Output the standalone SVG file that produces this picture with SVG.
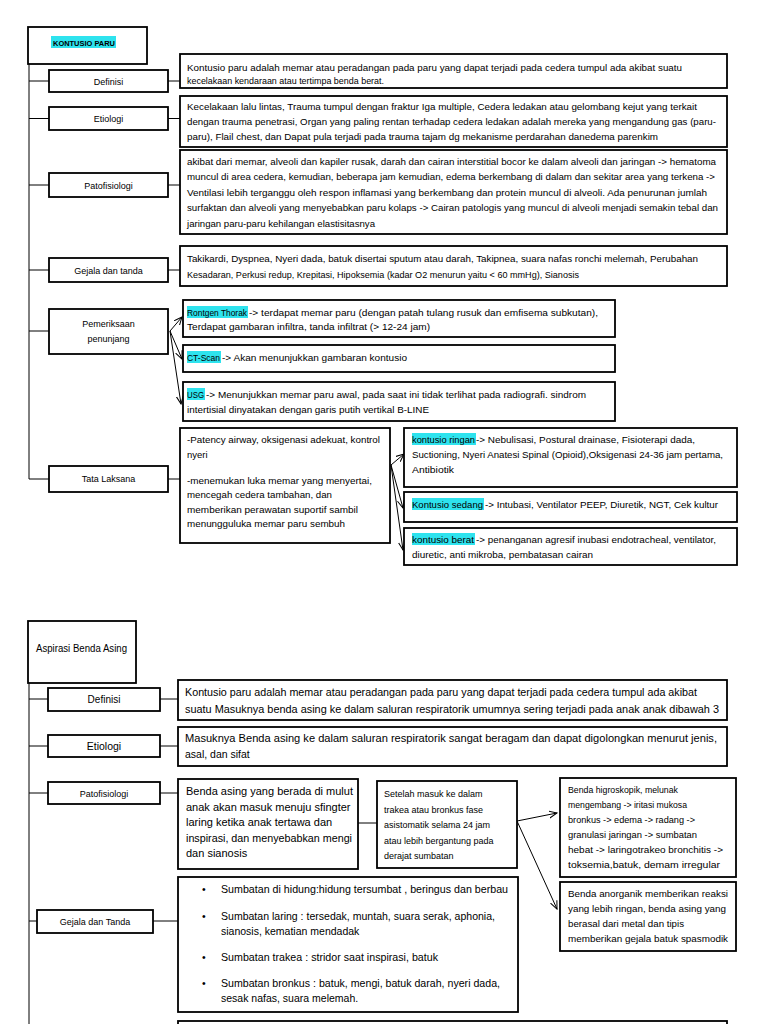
<svg xmlns="http://www.w3.org/2000/svg" width="768" height="1024" viewBox="0 0 768 1024">
<style>
.bx{fill:#fff;stroke:#000;stroke-width:1.8}
.ln{stroke:#000;stroke-width:1;fill:none}
.ar{stroke:#000;stroke-width:1;fill:none;marker-end:url(#ah)}
.hl{fill:#2ee3ee}
text{font-family:"Liberation Sans",Arial,sans-serif;fill:#000}
.t{font-size:9.5px}
.c{font-size:9px;text-anchor:middle}
.m{font-size:10.5px}
.b{font-size:11px}
.s{font-size:9px}
</style>
<defs>
<marker id="ah" markerUnits="userSpaceOnUse" markerWidth="9" markerHeight="9" refX="8" refY="4" orient="auto">
<path d="M0,0.5 L8,4 L0,7.5" fill="none" stroke="#000" stroke-width="1"/>
</marker>
</defs>
<rect width="768" height="1024" fill="#fff"/>

<g id="connectors">
<path class="ln" d="M29,64 V479 H49"/>
<path class="ln" d="M29,81 H49 M29,118.5 H49 M29,185 H49 M29,270 H49 M29,331 H49"/>
<path class="ln" d="M168,81 H180 M168,118.5 H180 M168,185 H180 M168,270 H180 M168,479 H180"/>
<path class="ar" d="M170,331 L182,317"/>
<path class="ar" d="M170,331 L182,359"/>
<path class="ar" d="M170,331 L181,404"/>
<path class="ar" d="M391,465 L404,454"/>
<path class="ar" d="M391,465 L403,508"/>
<path class="ar" d="M391,465 L403,550"/>
<path class="ln" d="M29,683 V1024"/>
<path class="ln" d="M29,699 H48 M160,699 H178 M29,746 H48 M160,746 H178 M29,793 H48 M160,793 H178 M29,921 H37 M153,921 H178 M358,823 H377"/>
<path class="ar" d="M517,821 L557,813"/>
<path class="ar" d="M517,821 L557,909"/>
</g>

<g id="kontusio-paru">
<rect class="bx" x="28" y="27" width="119" height="37"/>
<rect class="hl" x="51" y="36" width="65" height="12"/>
<text x="53" y="45.5" style="font-size:8px;font-weight:bold" textLength="62" lengthAdjust="spacingAndGlyphs">KONTUSIO PARU</text>
</g>

<g id="definisi-1">
<rect class="bx" x="49" y="70" width="119" height="22"/>
<text class="c" x="108.5" y="84.5">Definisi</text>
</g>
<g id="definisi-1-text">
<rect class="bx" x="180" y="54" width="547" height="34"/>
<text class="t" x="187" y="70.5" textLength="495" lengthAdjust="spacingAndGlyphs">Kontusio paru adalah memar atau peradangan pada paru yang dapat terjadi pada cedera tumpul ada akibat suatu</text>
<text class="t" x="187" y="84" textLength="197" lengthAdjust="spacingAndGlyphs">kecelakaan kendaraan atau tertimpa benda berat.</text>
</g>

<g id="etiologi-1">
<rect class="bx" x="49" y="107" width="119" height="23"/>
<text class="c" x="108.5" y="122">Etiologi</text>
</g>
<g id="etiologi-1-text">
<rect class="bx" x="180" y="96" width="547" height="51"/>
<text class="t" x="187" y="109.5" textLength="510" lengthAdjust="spacingAndGlyphs">Kecelakaan lalu lintas, Trauma tumpul dengan fraktur Iga multiple, Cedera ledakan atau gelombang kejut yang terkait</text>
<text class="t" x="187" y="124.5" textLength="529" lengthAdjust="spacingAndGlyphs">dengan trauma penetrasi, Organ yang paling rentan terhadap  cedera ledakan adalah mereka yang mengandung gas (paru-</text>
<text class="t" x="187" y="139.5" textLength="471" lengthAdjust="spacingAndGlyphs">paru),  Flail chest, dan Dapat pula terjadi pada trauma tajam dg mekanisme perdarahan danedema parenkim</text>
</g>

<g id="patofisiologi-1">
<rect class="bx" x="49" y="173" width="119" height="24"/>
<text class="c" x="108.5" y="188.5">Patofisiologi</text>
</g>
<g id="patofisiologi-1-text">
<rect class="bx" x="180" y="150" width="547" height="84"/>
<text class="t" x="187" y="164.5" textLength="529" lengthAdjust="spacingAndGlyphs">akibat dari memar, alveoli dan kapiler rusak, darah dan cairan interstitial bocor ke dalam alveoli dan jaringan -&gt; hematoma</text>
<text class="t" x="187" y="180" textLength="528" lengthAdjust="spacingAndGlyphs">muncul di area cedera, kemudian, beberapa jam kemudian, edema berkembang di dalam dan sekitar area yang terkena -&gt;</text>
<text class="t" x="187" y="195.5" textLength="520" lengthAdjust="spacingAndGlyphs">Ventilasi lebih terganggu oleh respon inflamasi yang berkembang dan protein muncul di alveoli. Ada penurunan jumlah</text>
<text class="t" x="187" y="211" textLength="531" lengthAdjust="spacingAndGlyphs">surfaktan dan alveoli yang menyebabkan paru kolaps -&gt; Cairan patologis yang muncul di alveoli menjadi semakin tebal dan</text>
<text class="t" x="187" y="226.5" textLength="188" lengthAdjust="spacingAndGlyphs">jaringan paru-paru kehilangan elastisitasnya</text>
</g>

<g id="gejala-1">
<rect class="bx" x="49" y="258" width="119" height="24"/>
<text class="c" x="108.5" y="273.5">Gejala dan tanda</text>
</g>
<g id="gejala-1-text">
<rect class="bx" x="180" y="246" width="547" height="40"/>
<text class="t" x="187" y="261.5" textLength="511" lengthAdjust="spacingAndGlyphs">Takikardi, Dyspnea, Nyeri dada, batuk disertai sputum atau darah, Takipnea, suara nafas ronchi melemah, Perubahan</text>
<text class="t" x="187" y="277.5" textLength="392" lengthAdjust="spacingAndGlyphs">Kesadaran, Perkusi redup, Krepitasi, Hipoksemia (kadar O2 menurun yaitu &lt; 60 mmHg), Sianosis</text>
</g>

<g id="pemeriksaan">
<rect class="bx" x="49" y="309" width="119" height="45"/>
<text class="c" x="108.5" y="326.5">Pemeriksaan</text>
<text class="c" x="108.5" y="342">penunjang</text>
</g>
<g id="rontgen">
<rect class="bx" x="183" y="300" width="432" height="37"/>
<rect class="hl" x="187" y="306" width="61" height="12"/>
<text class="t" x="187" y="315.5" textLength="60" lengthAdjust="spacingAndGlyphs">Rontgen Thorak</text>
<text class="t" x="249" y="315.5" textLength="349" lengthAdjust="spacingAndGlyphs"> -&gt; terdapat memar paru (dengan patah tulang rusuk dan emfisema subkutan),</text>
<text class="t" x="187" y="329.5" textLength="243" lengthAdjust="spacingAndGlyphs">Terdapat gambaran infiltra, tanda infiltrat (&gt; 12-24 jam)</text>
</g>
<g id="ctscan">
<rect class="bx" x="183" y="345" width="432" height="27"/>
<rect class="hl" x="187" y="351" width="34" height="12"/>
<text class="t" x="187" y="360.5" textLength="33" lengthAdjust="spacingAndGlyphs">CT-Scan</text>
<text class="t" x="222" y="360.5" textLength="185" lengthAdjust="spacingAndGlyphs"> -&gt; Akan menunjukkan gambaran kontusio</text>
</g>
<g id="usg">
<rect class="bx" x="183" y="382" width="432" height="39"/>
<rect class="hl" x="187" y="388" width="18" height="12"/>
<text class="t" x="187" y="397.5" textLength="17" lengthAdjust="spacingAndGlyphs">USG</text>
<text class="t" x="206" y="397.5" textLength="380" lengthAdjust="spacingAndGlyphs"> -&gt; Menunjukkan memar paru awal, pada saat ini tidak terlihat pada radiografi. sindrom</text>
<text class="t" x="187" y="412.5" textLength="242" lengthAdjust="spacingAndGlyphs">intertisial dinyatakan dengan garis putih vertikal B-LINE</text>
</g>

<g id="tata-laksana">
<rect class="bx" x="49" y="466" width="119" height="26"/>
<text class="c" x="108.5" y="482">Tata Laksana</text>
</g>
<g id="tata-laksana-text">
<rect class="bx" x="180" y="428" width="210" height="115"/>
<text class="t" x="187" y="442.5" textLength="193" lengthAdjust="spacingAndGlyphs">-Patency airway, oksigenasi adekuat, kontrol</text>
<text class="t" x="187" y="457.5">nyeri</text>
<text class="t" x="187" y="483.5" textLength="185" lengthAdjust="spacingAndGlyphs">-menemukan luka memar yang menyertai,</text>
<text class="t" x="187" y="498" textLength="145" lengthAdjust="spacingAndGlyphs">mencegah cedera tambahan, dan</text>
<text class="t" x="187" y="512.5" textLength="171" lengthAdjust="spacingAndGlyphs">memberikan perawatan suportif sambil</text>
<text class="t" x="187" y="527" textLength="158" lengthAdjust="spacingAndGlyphs">menungguluka memar paru sembuh</text>
</g>
<g id="kontusio-ringan">
<rect class="bx" x="404" y="428" width="333" height="59"/>
<rect class="hl" x="412" y="433" width="64" height="12"/>
<text class="t" x="412" y="442.5" textLength="63" lengthAdjust="spacingAndGlyphs">kontusio ringan</text>
<text class="t" x="476" y="442.5" textLength="219" lengthAdjust="spacingAndGlyphs"> -&gt; Nebulisasi, Postural drainase, Fisioterapi dada,</text>
<text class="t" x="412" y="457.5" textLength="311" lengthAdjust="spacingAndGlyphs">Suctioning, Nyeri Anatesi Spinal (Opioid),Oksigenasi 24-36 jam pertama,</text>
<text class="t" x="412" y="472.5" textLength="42" lengthAdjust="spacingAndGlyphs">Antibiotik</text>
</g>
<g id="kontusio-sedang">
<rect class="bx" x="404" y="492" width="333" height="30"/>
<rect class="hl" x="412" y="498" width="72" height="12"/>
<text class="t" x="412" y="507.5" textLength="71" lengthAdjust="spacingAndGlyphs">Kontusio sedang</text>
<text class="t" x="485" y="507.5" textLength="233" lengthAdjust="spacingAndGlyphs"> -&gt; Intubasi, Ventilator PEEP, Diuretik, NGT, Cek kultur</text>
</g>
<g id="kontusio-berat">
<rect class="bx" x="404" y="528" width="333" height="37"/>
<rect class="hl" x="412" y="533" width="63" height="12"/>
<text class="t" x="412" y="542.5" textLength="62" lengthAdjust="spacingAndGlyphs">kontusio berat</text>
<text class="t" x="476" y="542.5" textLength="240" lengthAdjust="spacingAndGlyphs"> -&gt; penanganan agresif inubasi endotracheal, ventilator,</text>
<text class="t" x="412" y="557.5" textLength="181" lengthAdjust="spacingAndGlyphs">diuretic, anti mikroba, pembatasan cairan</text>
</g>

<g id="aspirasi-benda-asing">
<rect class="bx" x="28" y="621" width="108" height="62"/>
<text x="36" y="652" style="font-size:10px" textLength="91" lengthAdjust="spacingAndGlyphs">Aspirasi Benda Asing</text>
</g>

<g id="definisi-2">
<rect class="bx" x="48" y="688" width="112" height="23"/>
<text x="104" y="703" style="font-size:10px;text-anchor:middle">Definisi</text>
</g>
<g id="definisi-2-text">
<rect class="bx" x="178" y="680" width="549" height="40"/>
<text class="m" x="185" y="696" textLength="512" lengthAdjust="spacingAndGlyphs">Kontusio paru adalah memar atau peradangan pada paru yang dapat terjadi pada cedera tumpul ada akibat</text>
<text class="m" x="185" y="713" textLength="534" lengthAdjust="spacingAndGlyphs">suatu Masuknya benda asing ke dalam saluran respiratorik umumnya sering terjadi pada anak anak dibawah 3</text>
</g>

<g id="etiologi-2">
<rect class="bx" x="48" y="735" width="112" height="22"/>
<text x="104" y="750" style="font-size:10.5px;text-anchor:middle">Etiologi</text>
</g>
<g id="etiologi-2-text">
<rect class="bx" x="178" y="727" width="549" height="39"/>
<text class="m" x="185" y="742" textLength="532" lengthAdjust="spacingAndGlyphs">Masuknya Benda asing ke dalam saluran respiratorik sangat beragam dan dapat digolongkan menurut jenis,</text>
<text class="m" x="185" y="758">asal, dan sifat</text>
</g>

<g id="patofisiologi-2">
<rect class="bx" x="48" y="782" width="112" height="22"/>
<text class="c" x="104" y="796.5">Patofisiologi</text>
</g>
<g id="patofisiologi-2-text">
<rect class="bx" x="178" y="779" width="180" height="90"/>
<text class="b" x="186" y="795">Benda asing yang berada di mulut</text>
<text class="b" x="186" y="810.5">anak akan masuk menuju sfingter</text>
<text class="b" x="186" y="826">laring ketika anak tertawa dan</text>
<text class="b" x="186" y="841.5" textLength="166" lengthAdjust="spacingAndGlyphs">inspirasi, dan menyebabkan mengi</text>
<text class="b" x="186" y="857">dan sianosis</text>
</g>
<g id="fase-asistomatik">
<rect class="bx" x="377" y="781" width="140" height="87"/>
<text class="s" x="384" y="797">Setelah masuk ke dalam</text>
<text class="s" x="384" y="812.5">trakea atau bronkus fase</text>
<text class="s" x="384" y="828">asistomatik selama 24 jam</text>
<text class="s" x="384" y="843.5">atau lebih bergantung pada</text>
<text class="s" x="384" y="859">derajat sumbatan</text>
</g>
<g id="benda-higroskopik">
<rect class="bx" x="560" y="778" width="176" height="99"/>
<text class="s" x="568" y="793" textLength="110" lengthAdjust="spacingAndGlyphs">Benda higroskopik, melunak</text>
<text class="s" x="568" y="808" textLength="119" lengthAdjust="spacingAndGlyphs">mengembang -&gt; iritasi mukosa</text>
<text class="s" x="568" y="823" textLength="127" lengthAdjust="spacingAndGlyphs">bronkus -&gt; edema -&gt; radang -&gt;</text>
<text class="s" x="568" y="838" textLength="129" lengthAdjust="spacingAndGlyphs">granulasi jaringan -&gt; sumbatan</text>
<text class="s" x="568" y="853" textLength="155" lengthAdjust="spacingAndGlyphs">hebat -&gt; laringotrakeo bronchitis -&gt;</text>
<text class="s" x="568" y="868" textLength="152" lengthAdjust="spacingAndGlyphs">toksemia,batuk, demam irregular</text>
</g>
<g id="benda-anorganik">
<rect class="bx" x="560" y="882" width="176" height="69"/>
<text class="s" x="568" y="897" textLength="160" lengthAdjust="spacingAndGlyphs">Benda anorganik memberikan reaksi</text>
<text class="s" x="568" y="912" textLength="158" lengthAdjust="spacingAndGlyphs">yang lebih ringan, benda asing yang</text>
<text class="s" x="568" y="927" textLength="116" lengthAdjust="spacingAndGlyphs">berasal dari metal dan tipis</text>
<text class="s" x="568" y="942" textLength="160" lengthAdjust="spacingAndGlyphs">memberikan gejala batuk spasmodik</text>
</g>

<g id="gejala-2">
<rect class="bx" x="37" y="910" width="116" height="23"/>
<text class="c" x="95" y="925">Gejala dan Tanda</text>
</g>
<g id="gejala-2-text">
<rect class="bx" x="178" y="877" width="340" height="135"/>
<text class="m" x="202" y="892.5">•</text>
<text class="m" x="221" y="892.5" textLength="287" lengthAdjust="spacingAndGlyphs">Sumbatan di hidung:hidung tersumbat , beringus dan berbau</text>
<text class="m" x="202" y="919.5">•</text>
<text class="m" x="221" y="919.5" textLength="274" lengthAdjust="spacingAndGlyphs">Sumbatan laring : tersedak, muntah, suara serak, aphonia,</text>
<text class="m" x="221" y="934.5">sianosis, kematian mendadak</text>
<text class="m" x="202" y="960.5">•</text>
<text class="m" x="221" y="960.5" textLength="217" lengthAdjust="spacingAndGlyphs">Sumbatan trakea : stridor saat inspirasi, batuk</text>
<text class="m" x="202" y="986.5">•</text>
<text class="m" x="221" y="986.5" textLength="279" lengthAdjust="spacingAndGlyphs">Sumbatan bronkus : batuk, mengi, batuk darah, nyeri dada,</text>
<text class="m" x="221" y="1001.5">sesak nafas, suara melemah.</text>
</g>
<g id="bottom-box">
<rect class="bx" x="178" y="1021" width="549" height="20"/>
</g>
</svg>
